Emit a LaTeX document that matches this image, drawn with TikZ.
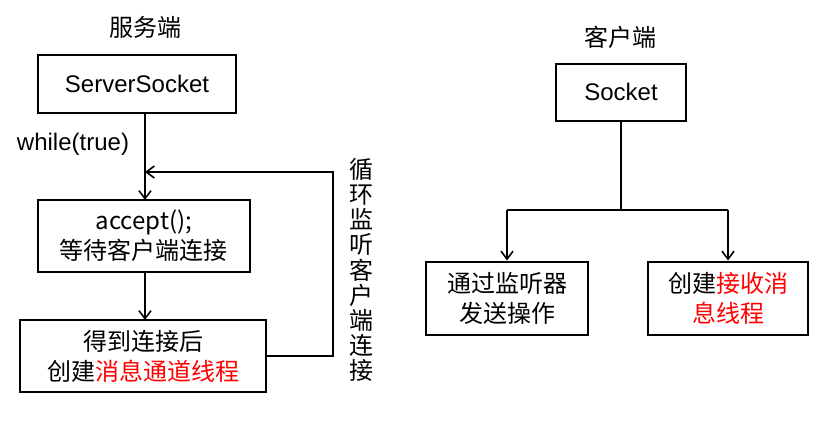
\documentclass[tikz,border=0pt]{standalone}
\usepackage{fontspec}
\setmainfont{Liberation Sans}
\newfontfamily\cjk{Noto Sans CJK SC}
\usetikzlibrary{arrows.meta}
\begin{document}
\begin{tikzpicture}[x=0.5pt,y=-0.5pt,
  box/.style={draw,line width=1pt,inner sep=0pt,align=center,font=\fontsize{12}{15}\selectfont\cjk},
  lbl/.style={inner sep=0pt,align=center,font=\fontsize{12}{15}\selectfont\cjk},
  arr/.style={line width=0.8pt,-{Straight Barb[length=4pt,width=6pt]}},
  ln/.style={line width=0.8pt}]
\useasboundingbox (0,0) rectangle (831,428);
\node[lbl] (t1) at (145,27) {服务端};
\node[box,minimum width=99pt,minimum height=29pt] (ss) at (137,84) {\fontspec{Liberation Sans}ServerSocket};
\node[lbl,font=\fontsize{12}{15}\selectfont] (wt) at (73,144) {while(true)};
\node[box,minimum width=106pt,minimum height=36pt] (ac) at (144,236) {accept();\\等待客户端连接};
\node[box,minimum width=123pt,minimum height=36pt] (cr) at (143,356) {得到连接后\\创建\textcolor{red}{消息通道线程}};
\coordinate (a1) at (145,113);
\coordinate (a2) at (145,200);
\coordinate (a3) at (145,272);
\coordinate (a4) at (145,320);
\draw[arr] (a1) -- (a2);
\draw[arr] (a3) -- (a4);
\coordinate (l1) at (333,356);
\coordinate (l2) at (333,172);
\coordinate (l3) at (145,172);
\draw[arr] (cr.east) -- (l1) -- (l2) -- (l3);
\node[lbl,font=\fontsize{12}{12.6}\selectfont\cjk] (vt) at (361,270) {循\\环\\监\\听\\客\\户\\端\\连\\接};
\node[lbl] (t2) at (620,37) {客户端};
\node[box,minimum width=65pt,minimum height=28.5pt] (sk) at (621,92) {\fontspec{Liberation Sans}Socket};
\node[box,minimum width=81pt,minimum height=36.5pt] (lb) at (507,298) {通过监听器\\发送操作};
\node[box,minimum width=80pt,minimum height=36.5pt] (rb) at (728,298) {创建\textcolor{red}{接收消}\\\textcolor{red}{息线程}};
\coordinate (j) at (621,210);
\coordinate (jl) at (507,210);
\coordinate (jr) at (728,210);
\draw[ln] (sk.south) -- (j);
\draw[ln] (jl) -- (jr);
\draw[arr] (jl) -- (lb.north);
\draw[arr] (jr) -- (rb.north);
\end{tikzpicture}
\end{document}
